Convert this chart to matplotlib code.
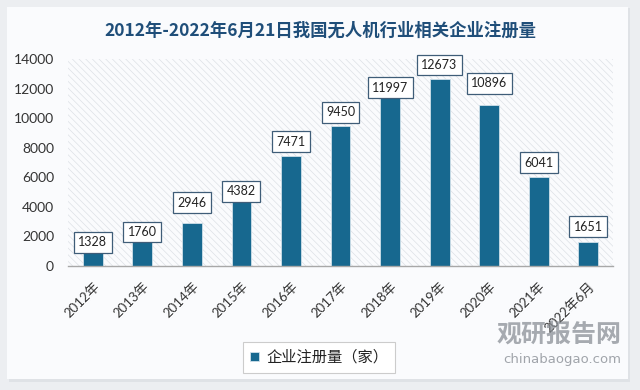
import matplotlib.pyplot as plt
from matplotlib.patches import FancyBboxPatch, Rectangle

# data
years = ['2012年', '2013年', '2014年', '2015年', '2016年', '2017年',
         '2018年', '2019年', '2020年', '2021年', '2022年6月']
counts = [1328, 1760, 2946, 4382, 7471, 9450, 11997, 12673, 10896, 6041, 1651]
# how far (px) each value box sits above its bar top, as in the picture
box_lift = [4, 8, 20, 10, 14, 14, 1, 14, 22, 14, 15]

plt.rcParams['font.family'] = ['Lato', 'Noto Sans CJK SC', 'DejaVu Sans']
plt.rcParams['hatch.linewidth'] = 0.5
plt.rcParams['hatch.color'] = '#dde1e6'

fig = plt.figure(figsize=(6.4, 3.9), dpi=100)
fig.patch.set_facecolor('#eceef1')

# white card with soft shadow
W, H = 640, 390
shadow = FancyBboxPatch((9 / W, 1 - 382 / H), 621 / W, 374 / H,
                        boxstyle='square,pad=0', transform=fig.transFigure,
                        facecolor='#dfe2e6', edgecolor='none', zorder=-3)
card = FancyBboxPatch((7 / W, 1 - 379 / H), 621 / W, 372 / H,
                      boxstyle='square,pad=0', transform=fig.transFigure,
                      facecolor='#fafbfd', edgecolor='none', zorder=-2)
fig.patches.extend([shadow, card])

ax = fig.add_axes([68 / W, 1 - 266 / H, 545 / W, 206.7 / H])
ax.set_zorder(1)
ax.set_facecolor('#fafbfd')
ax.add_patch(Rectangle((0, 0), 1, 1, transform=ax.transAxes, facecolor='none',
                       hatch='\\\\\\\\\\', edgecolor='#dde1e6', linewidth=0, zorder=0))

x = list(range(len(years)))
bars = ax.bar(x, counts, width=0.40, color='#17688f', edgecolor='#cfe0ea',
              linewidth=0.6, zorder=2, label='企业注册量（家）')

for xi, v, lift in zip(x, counts, box_lift):
    ax.annotate(str(v), (xi, v), xytext=(0, lift), textcoords='offset pixels',
                ha='center', va='center', fontsize=9, color='#222222', zorder=4,
                bbox=dict(boxstyle='square,pad=0.35', facecolor='white',
                          edgecolor='#3f5d78', linewidth=0.9))

ax.set_xlim(-0.5, len(years) - 0.5)
ax.set_ylim(0, 14000)
ax.set_yticks(range(0, 14001, 2000))
ax.tick_params(axis='y', length=0, pad=10, labelsize=10, labelcolor='#333333')
ax.tick_params(axis='x', length=0, pad=10, labelsize=9.5, labelcolor='#333333')
ax.set_xticks(x)
ax.set_xticklabels(years, rotation=45, ha='right', va='top', rotation_mode='anchor')
for s in ['left', 'right', 'top']:
    ax.spines[s].set_visible(False)
ax.spines['bottom'].set_color('#a8a8a8')
ax.spines['bottom'].set_linewidth(1.0)
ax.spines['bottom'].set_zorder(3)

fig.text(0.5, 1 - 31 / H, '2012年-2022年6月21日我国无人机行业相关企业注册量',
         ha='center', va='center', fontsize=12.5, fontweight='bold',
         color='#1f4e79', family=['Noto Sans CJK SC', 'DejaVu Sans'])

leg = fig.legend(handles=[bars], loc='center', bbox_to_anchor=(319 / W, 1 - 357.5 / H),
                 frameon=True, fancybox=False, edgecolor='#cccccc', framealpha=1,
                 handlelength=0.6, handleheight=0.6, handletextpad=0.5,
                 borderpad=0.45, borderaxespad=0,
                 prop={'family': ['Noto Sans CJK SC', 'DejaVu Sans'], 'size': 11})
leg.get_frame().set_linewidth(0.8)
for t in leg.get_texts():
    t.set_color('#222222')

# watermark
fig.text(622 / W, 1 - 335 / H, '观研报告网', ha='right', va='center', fontsize=18,
         fontweight='bold', color='#8a8f96', alpha=0.75,
         family=['Noto Sans CJK SC', 'DejaVu Sans'])
fig.text(621 / W, 1 - 359 / H, 'chinabaogao.com', ha='right', va='center',
         fontsize=9.5, color='#8a8f96', alpha=0.8, family='DejaVu Sans')

fig.savefig('out.png', dpi=100, facecolor=fig.get_facecolor())
